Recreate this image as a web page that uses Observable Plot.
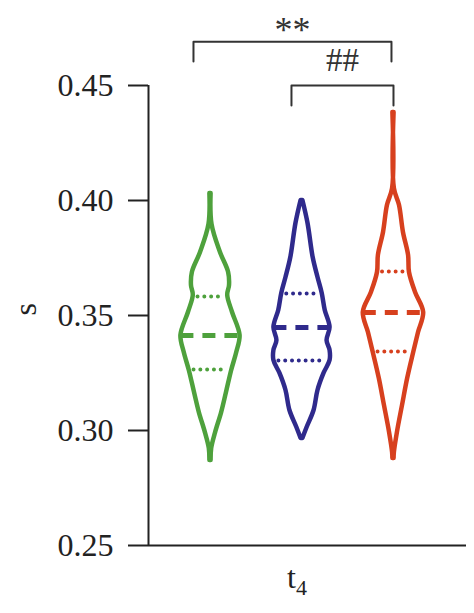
<!DOCTYPE html>
<html>
<head>
<meta charset="utf-8">
<script src="https://cdn.jsdelivr.net/npm/d3@7"></script>
<script src="https://cdn.jsdelivr.net/npm/@observablehq/plot@0.6"></script>
<style>
  body { margin: 0; background: #fff; }
  #chart svg { display: block; }
</style>
</head>
<body>
<div id="chart"></div>
<script>
// ---- data ----
const groups = ["Group 1", "Group 2", "Group 3"];
const colors = ["#4ea13c", "#2f2a8c", "#d7401e"];

// violin outlines: value levels (top to bottom) and relative density (half width, max = 1)
const greenLevels  = [0.403, 0.3896, 0.3774, 0.3687, 0.363, 0.3587, 0.3513, 0.3413, 0.3339, 0.326, 0.3165, 0.3078, 0.2991, 0.2922, 0.287];
const greenDensity = [0.02,  0.05,   0.33,   0.60,   0.63,  0.57,   0.73,   0.98,   0.87,   0.70,  0.53,   0.37,   0.17,   0.04,   0.02];

const blueLevels  = [0.400, 0.390, 0.3752, 0.3665, 0.3596, 0.3522, 0.3448, 0.3391, 0.3348, 0.3304, 0.3248, 0.3174, 0.3087, 0.3013, 0.2965];
const blueDensity = [0.03,  0.20,  0.37,   0.53,   0.67,   0.77,   0.93,   0.83,   0.93,   0.93,   0.73,   0.53,   0.40,   0.17,   0.03];

const redLevels  = [0.4383, 0.4052, 0.3978, 0.3861, 0.3761, 0.3687, 0.360, 0.3513, 0.3426, 0.3339, 0.3226, 0.3109, 0.2991, 0.2904, 0.2878];
const redDensity = [0.02,   0.03,   0.20,   0.33,   0.50,   0.53,   0.73,  1.00,   0.83,   0.67,   0.47,   0.30,   0.13,   0.03,   0.02];

const medians   = [0.3413, 0.3448, 0.3513];
const quartile1 = [0.3265, 0.3304, 0.3343];
const quartile3 = [0.3583, 0.3596, 0.3691];

const yTicks = [0.25, 0.30, 0.35, 0.40, 0.45];
const yLabel = "s";
const xLabel = "t";
const xLabelSub = "4";

// significance brackets
const bracketLabels = ["**", "##"];
const bracketFrom   = [0.814, 1.885];
const bracketTo     = [2.978, 3.0];
const bracketLevel  = [0.469, 0.45];
const bracketTip    = [0.4604, 0.4413];

// ---- build tables ----
const levels = [greenLevels, blueLevels, redLevels];
const densities = [greenDensity, blueDensity, redDensity];
const K = 0.33; // x units for density 1

const font = "'Liberation Serif', 'DejaVu Serif', serif";
const W = 474, H = 613;
const marginLeft = 148, marginRight = 8, marginTop = 85, marginBottom = 68;
const xDomain = [0.3224, 3.798];

const marks = [];
groups.forEach((g, i) => {
  const pos = i + 1;
  const profile = levels[i].map((v, j) => ({v, d: densities[i][j]}));
  const widthAt = d3.scaleLinear().domain(levels[i]).range(densities[i]).clamp(true);
  marks.push(Plot.areaX(profile, {
    y: "v",
    x1: d => pos - d.d * K,
    x2: d => pos + d.d * K,
    fill: "none",
    stroke: colors[i],
    strokeWidth: 4.5,
    strokeLinejoin: "round",
    curve: "catmull-rom"
  }));
  // quartiles (dotted)
  marks.push(Plot.ruleY([quartile1[i], quartile3[i]], {
    y: d => d,
    x1: d => pos - widthAt(d) * K,
    x2: d => pos + widthAt(d) * K,
    insetLeft: 5, insetRight: 5,
    stroke: colors[i],
    strokeWidth: 4,
    strokeLinecap: "round",
    strokeDasharray: "0,6.8"
  }));
  // median (dashed)
  marks.push(Plot.ruleY([medians[i]], {
    y: d => d,
    x1: d => pos - widthAt(d) * K,
    x2: d => pos + widthAt(d) * K,
    stroke: colors[i],
    strokeWidth: 5,
    strokeDasharray: "13,9"
  }));
});

// brackets
bracketLabels.forEach((lab, i) => {
  const pts = [
    {x: bracketFrom[i], y: bracketTip[i]},
    {x: bracketFrom[i], y: bracketLevel[i]},
    {x: bracketTo[i], y: bracketLevel[i]},
    {x: bracketTo[i], y: bracketTip[i]}
  ];
  marks.push(Plot.line(pts, {x: "x", y: "y", stroke: "#333", strokeWidth: 2}));
  marks.push(Plot.text([lab], {
    x: () => (bracketFrom[i] + bracketTo[i]) / 2,
    y: () => bracketLevel[i],
    text: d => d,
    dy: i === 0 ? -11 : -25,
    fontSize: i === 0 ? 36 : 33,
    fill: "#333",
    fontFamily: font
  }));
});

// axes
marks.push(Plot.ruleX([xDomain[0]], {y1: yTicks[0], y2: yTicks[yTicks.length - 1], stroke: "#222", strokeWidth: 2}));
marks.push(Plot.ruleY([yTicks[0]], {stroke: "#222", strokeWidth: 2}));
marks.push(Plot.axisY(yTicks, {
  tickSize: 20, tickPadding: 15,
  tickFormat: d3.format(".2f"),
  fontSize: 32, fontFamily: font,
  stroke: "#222", strokeWidth: 2,
  fill: "#222",
  label: null
}));
marks.push(Plot.text([yLabel], {
  frameAnchor: "left", dx: -123, rotate: -90,
  fontSize: 32, fontFamily: font, fill: "#222"
}));

const chart = Plot.plot({
  width: W, height: H,
  marginLeft, marginRight, marginTop, marginBottom,
  style: {fontFamily: font, background: "#fff"},
  x: {domain: xDomain, axis: null},
  y: {domain: [yTicks[0], yTicks[yTicks.length - 1]], axis: null},
  marks
});

// x label with subscript
const svg = d3.select(chart);
const ys = chart.scale("y");
const cx = (marginLeft + W - marginRight) / 2 - 10;
const lab = svg.append("text")
  .attr("x", cx)
  .attr("y", ys.apply(yTicks[0]) + 43)
  .attr("text-anchor", "middle")
  .attr("fill", "#222")
  .style("font-family", font)
  .style("font-size", "32px");
lab.append("tspan").text(xLabel);
lab.append("tspan").attr("dy", 7).style("font-size", "22px").text(xLabelSub);

document.getElementById("chart").append(chart);
</script>
</body>
</html>
